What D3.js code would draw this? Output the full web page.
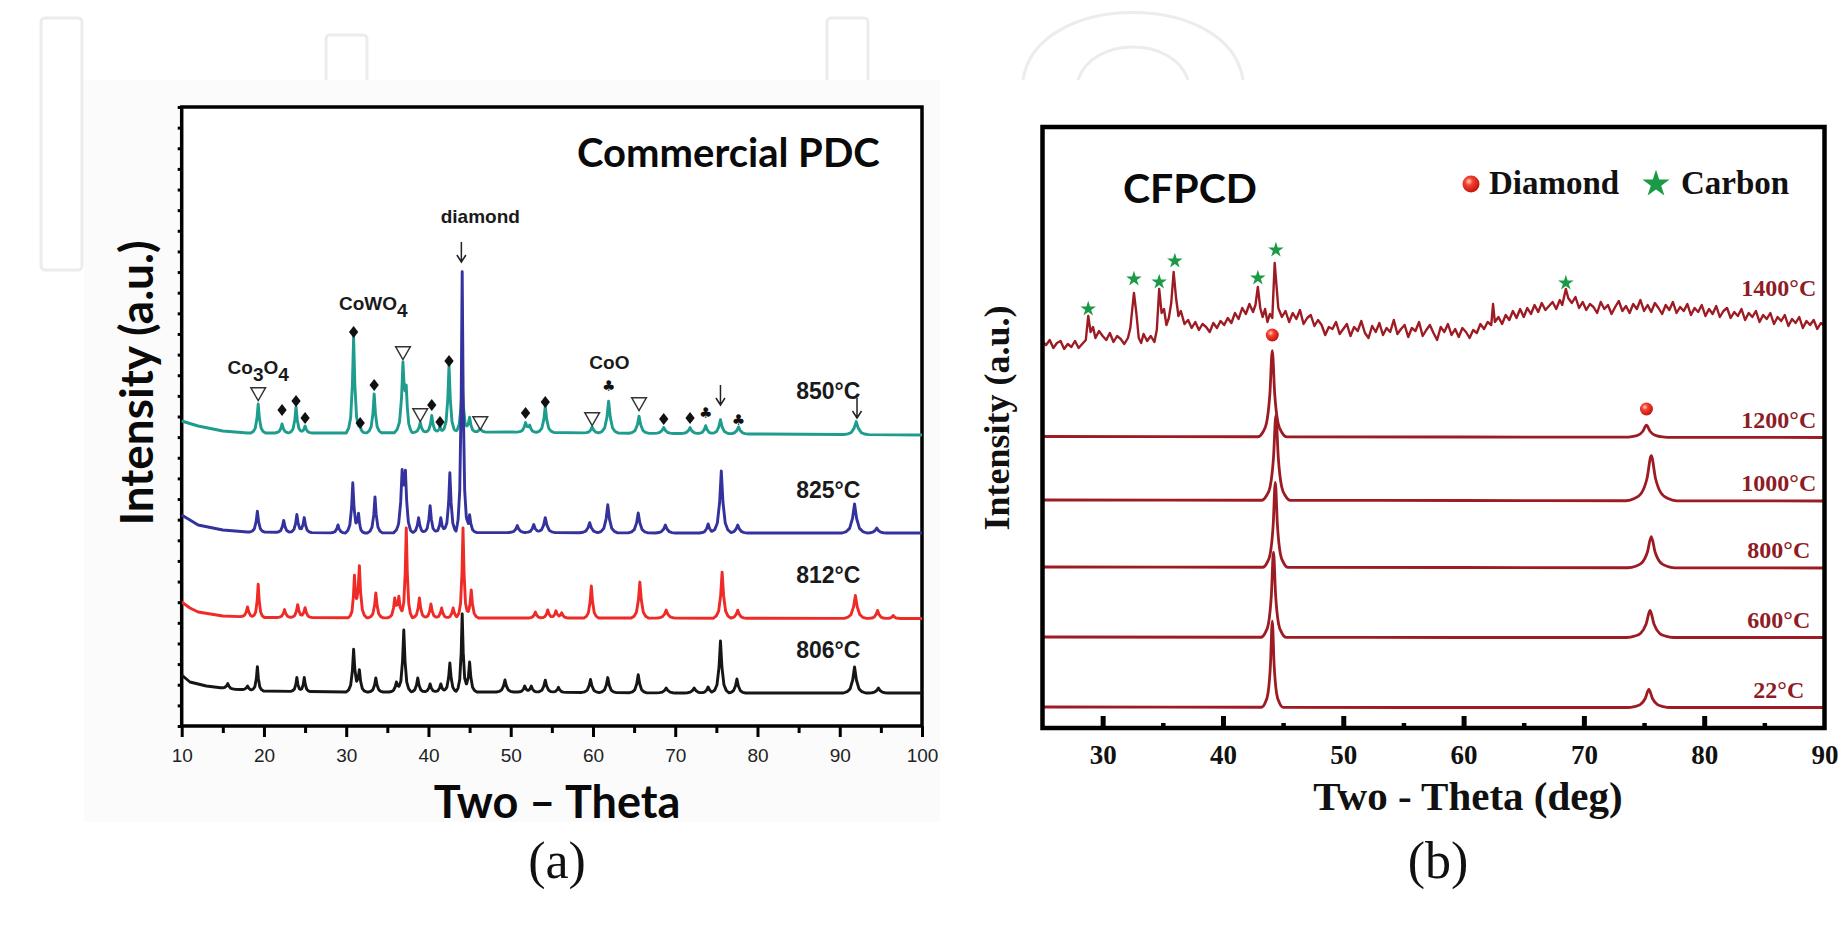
<!DOCTYPE html>
<html>
<head>
<meta charset="utf-8">
<script src="https://cdn.jsdelivr.net/npm/d3@7"></script>
<style>
    html, body { margin: 0; padding: 0; background: #fff; }
    svg { display: block; }
</style>
</head>
<body>
<svg id="chart" width="1841" height="935"></svg>
<script>
// ---------- panel (a) data: commercial PDC, counts ----------
const ticksA = [10, 20, 30, 40, 50, 60, 70, 80, 90, 100];
const minorA = [15, 25, 35, 45, 55, 65, 75, 85, 95];

// background levels [2theta, counts]
const bg806 = [[10, 510], [11, 440], [13, 400], [16, 370], [20, 350], [30, 340], [50, 340], [70, 330], [100, 330]];
const bg812 = [[10, 1240], [11, 1180], [12, 1140], [15, 1100], [20, 1085], [40, 1080], [60, 1080], [100, 1075]];
const bg850 = [[10, 3050], [12, 3000], [15, 2950], [18, 2930], [30, 2930], [50, 2940], [60, 2930], [80, 2920], [100, 2910]];
const bg825 = [[10, 2110], [11, 2060], [12, 2010], [15, 1960], [18, 1940], [30, 1930], [50, 1935], [70, 1930], [100, 1930]];

// peaks [2theta, height, fwhm]
const peaks806 = [
    [15.6, 50, 0.3], [18.0, 40, 0.3], [19.2, 240, 0.25], [24.0, 140, 0.25], [24.9, 140, 0.25],
    [30.9, 420, 0.3], [31.6, 210, 0.3], [33.6, 140, 0.3], [36.1, 100, 0.3], [37.0, 620, 0.3],
    [38.7, 140, 0.3], [40.2, 80, 0.3], [41.5, 80, 0.3], [42.6, 290, 0.3], [44.1, 780, 0.25],
    [45.0, 300, 0.3], [49.3, 120, 0.35], [51.7, 60, 0.3], [52.5, 60, 0.3], [54.2, 120, 0.35],
    [55.8, 50, 0.3], [59.7, 130, 0.35], [61.8, 150, 0.35], [65.5, 180, 0.35], [68.9, 50, 0.4],
    [72.3, 50, 0.4], [74.0, 60, 0.35], [75.5, 520, 0.35], [77.5, 140, 0.35], [91.8, 260, 0.45],
    [94.7, 50, 0.4],
];
const peaks812 = [
    [18.0, 100, 0.3], [19.3, 330, 0.25], [22.5, 80, 0.3], [24.1, 130, 0.3], [25.0, 100, 0.3],
    [31.0, 400, 0.25], [31.6, 510, 0.3], [33.6, 250, 0.3], [35.9, 180, 0.3], [36.4, 200, 0.3],
    [37.3, 900, 0.25], [38.9, 200, 0.3], [40.3, 140, 0.3], [41.6, 100, 0.3], [43.0, 100, 0.3],
    [44.2, 900, 0.25], [45.2, 280, 0.3], [53.0, 60, 0.3], [54.5, 80, 0.3], [55.5, 70, 0.3],
    [56.2, 50, 0.3], [59.8, 320, 0.3], [65.7, 360, 0.35], [68.9, 80, 0.4], [75.7, 460, 0.35],
    [77.6, 80, 0.35], [91.9, 230, 0.45], [94.6, 80, 0.35], [96.5, 30, 0.3],
];
const peaks850 = [
    [19.3, 290, 0.3], [22.2, 90, 0.3], [23.9, 260, 0.3], [25.0, 70, 0.3], [30.9, 960, 0.3],
    [31.7, 60, 0.25], [33.4, 390, 0.3], [36.9, 670, 0.35], [37.3, 350, 0.25], [39.0, 100, 0.3],
    [40.4, 170, 0.3], [41.4, 60, 0.25], [42.5, 670, 0.3], [44.1, 500, 0.3], [45.0, 150, 0.3],
    [46.3, 40, 0.3], [51.8, 90, 0.35], [52.3, 60, 0.3], [54.2, 260, 0.35], [59.9, 60, 0.35],
    [61.9, 320, 0.4], [65.6, 170, 0.4], [68.6, 60, 0.4], [71.8, 60, 0.4], [73.7, 80, 0.35],
    [75.5, 140, 0.4], [77.7, 70, 0.4], [92.0, 130, 0.5],
];
const peaks825 = [
    [19.2, 210, 0.3], [22.4, 120, 0.3], [24.0, 180, 0.3], [24.9, 150, 0.3], [29.0, 80, 0.3],
    [30.8, 500, 0.3], [31.5, 180, 0.25], [33.5, 360, 0.3], [36.8, 560, 0.35], [37.2, 520, 0.3],
    [38.8, 150, 0.3], [40.2, 270, 0.3], [41.5, 150, 0.3], [42.6, 600, 0.3], [44.1, 2610, 0.25],
    [45.0, 180, 0.3], [50.8, 70, 0.35], [52.8, 80, 0.35], [54.2, 150, 0.4], [59.6, 100, 0.4],
    [61.8, 280, 0.4], [65.5, 200, 0.4], [68.8, 80, 0.4], [74.0, 90, 0.35], [75.6, 620, 0.4],
    [77.6, 80, 0.4], [91.8, 290, 0.5], [94.5, 50, 0.4],
];

const seriesA = [
    ['806°C', bg806, peaks806],
    ['812°C', bg812, peaks812],
    ['850°C', bg850, peaks850],
    ['825°C', bg825, peaks825],
];

// phase markers [2theta, counts, kind]
const markersA = [
    [19.3, 3340, 'tri'], [22.2, 3160, 'dia'], [23.9, 3250, 'dia'], [25.0, 3080, 'dia'],
    [30.9, 3940, 'dia'], [31.7, 3030, 'dia'], [33.4, 3410, 'dia'], [36.9, 3750, 'tri'],
    [39.0, 3130, 'tri'], [40.4, 3210, 'dia'], [41.4, 3040, 'dia'], [42.5, 3650, 'dia'],
    [46.3, 3050, 'tri'], [51.8, 3130, 'dia'], [54.2, 3240, 'dia'], [59.9, 3090, 'tri'],
    [61.9, 3400, 'club'], [65.6, 3240, 'tri'], [68.6, 3070, 'dia'], [71.8, 3080, 'dia'],
    [73.7, 3130, 'club'], [75.5, 3310, 'arrow'], [77.7, 3060, 'club'], [92.1, 3180, 'arrow'],
    [44.0, 4740, 'arrow'],
];

// phase names [text, sub, text, sub, 2theta, counts]
const phaseLabels = [
    ['Co', '3', 'O', '4', 19.3, 3590],
    ['CoWO', '4', '', '', 33.3, 4230],
    ['diamond', '', '', '', 46.3, 5100],
    ['CoO', '', '', '', 62.0, 3640],
];

// ---------- panel (b) data: CFPCD ----------
const ticksB = [30, 40, 50, 60, 70, 80, 90];
const minorB = [35, 45, 55, 65, 75, 85];

const bg22 = [[25, 210], [60, 205], [90, 205]];
const bg600 = [[25, 910], [60, 905], [90, 905]];
const bg800 = [[25, 1610], [60, 1605], [90, 1600]];
const bg1000 = [[25, 2280], [60, 2275], [90, 2270]];
const bg1200 = [[25, 2915], [60, 2910], [90, 2905]];

const peaks22 = [[44.1, 860, 0.3], [75.4, 180, 0.6]];
const peaks600 = [[44.2, 850, 0.35], [75.5, 270, 0.65]];
const peaks800 = [[44.35, 850, 0.35], [75.6, 310, 0.65]];
const peaks1000 = [[44.4, 850, 0.4], [75.6, 450, 0.7]];
const peaks1200 = [[44.1, 860, 0.4], [75.2, 120, 0.6]];

const pts1400 = [
    [25.0, 3860], [25.3, 3830], [25.6, 3880], [25.9, 3800], [26.2, 3850], [26.5, 3870], [26.8, 3790],
    [27.1, 3840], [27.4, 3810], [27.7, 3870], [28.0, 3800], [28.3, 3840], [28.6, 3880], [28.8, 4120],
    [29.0, 3960], [29.2, 4010], [29.4, 3900], [29.7, 3970], [30.0, 3920], [30.3, 3880], [30.6, 3950],
    [30.9, 3860], [31.2, 3920], [31.5, 3890], [31.8, 3840], [32.1, 3900], [32.3, 4000], [32.6, 4350],
    [32.8, 4150], [33.0, 3900], [33.2, 3850], [33.4, 3940], [33.7, 3870], [34.0, 3920], [34.3, 3860],
    [34.5, 3980], [34.7, 4390], [34.9, 4150], [35.1, 4190], [35.3, 4030], [35.5, 4100], [35.7, 4250],
    [35.9, 4560], [36.1, 4300], [36.3, 4120], [36.5, 4170], [36.8, 4040], [37.1, 4080], [37.4, 4000],
    [37.7, 4060], [38.0, 3980], [38.3, 4040], [38.6, 4010], [38.9, 3960], [39.2, 4050], [39.5, 4000],
    [39.8, 4070], [40.1, 4030], [40.4, 4100], [40.7, 4050], [41.0, 4150], [41.3, 4090], [41.6, 4200],
    [41.9, 4140], [42.2, 4240], [42.5, 4160], [42.7, 4230], [42.9, 4410], [43.1, 4200], [43.3, 4110],
    [43.5, 4190], [43.7, 4060], [43.9, 4140], [44.1, 4100], [44.3, 4650], [44.6, 4200], [44.9, 4110],
    [45.2, 4170], [45.5, 4060], [45.8, 4150], [46.1, 4090], [46.4, 4180], [46.7, 4040], [47.0, 4100],
    [47.3, 4130], [47.6, 4020], [47.9, 4080], [48.2, 4030], [48.5, 3930], [48.8, 4010], [49.1, 3990],
    [49.4, 4060], [49.7, 3940], [50.0, 3990], [50.3, 4040], [50.6, 3920], [50.9, 4010], [51.2, 3970],
    [51.5, 4070], [51.8, 3950], [52.1, 3900], [52.4, 4020], [52.7, 3960], [53.0, 4050], [53.3, 3930],
    [53.6, 4000], [53.9, 3960], [54.2, 4080], [54.5, 3940], [54.8, 3990], [55.1, 4030], [55.4, 3910],
    [55.7, 4000], [56.0, 3970], [56.3, 4060], [56.6, 3920], [56.9, 3980], [57.2, 4030], [57.5, 3950],
    [57.8, 3880], [58.1, 4010], [58.4, 3960], [58.7, 4040], [59.0, 3930], [59.3, 3990], [59.6, 3910],
    [59.9, 4000], [60.2, 3960], [60.5, 3900], [60.8, 3980], [61.1, 3950], [61.4, 4040], [61.7, 3990],
    [62.0, 4060], [62.3, 4030], [62.45, 4240], [62.6, 4060], [62.9, 4110], [63.2, 4040], [63.5, 4130],
    [63.8, 4080], [64.1, 4170], [64.4, 4100], [64.7, 4190], [65.0, 4110], [65.3, 4200], [65.6, 4140],
    [65.9, 4230], [66.2, 4160], [66.5, 4250], [66.8, 4180], [67.1, 4220], [67.4, 4260], [67.7, 4190],
    [68.0, 4280], [68.2, 4230], [68.5, 4390], [68.7, 4300], [69.0, 4250], [69.3, 4310], [69.6, 4200],
    [69.9, 4260], [70.2, 4180], [70.5, 4240], [70.8, 4210], [71.1, 4150], [71.4, 4260], [71.7, 4190],
    [72.0, 4230], [72.3, 4140], [72.6, 4210], [72.9, 4270], [73.2, 4170], [73.5, 4220], [73.8, 4150],
    [74.1, 4240], [74.4, 4190], [74.7, 4280], [75.0, 4170], [75.3, 4230], [75.6, 4160], [75.9, 4250],
    [76.2, 4200], [76.5, 4140], [76.8, 4230], [77.1, 4180], [77.4, 4260], [77.7, 4150], [78.0, 4210],
    [78.3, 4170], [78.6, 4240], [78.9, 4130], [79.2, 4200], [79.5, 4160], [79.8, 4230], [80.1, 4120],
    [80.4, 4190], [80.7, 4140], [81.0, 4220], [81.3, 4110], [81.6, 4170], [81.9, 4200], [82.2, 4100],
    [82.5, 4160], [82.8, 4120], [83.1, 4190], [83.4, 4080], [83.7, 4150], [84.0, 4110], [84.3, 4170],
    [84.6, 4060], [84.9, 4130], [85.2, 4090], [85.5, 4150], [85.8, 4040], [86.1, 4110], [86.4, 4070],
    [86.7, 4130], [87.0, 4020], [87.3, 4090], [87.6, 4050], [87.9, 4110], [88.2, 4000], [88.5, 4070],
    [88.8, 4030], [89.1, 4080], [89.4, 3990], [89.7, 4050], [90.0, 4020],
];

const seriesB = [
    ['22°C', bg22, peaks22],
    ['600°C', bg600, peaks600],
    ['800°C', bg800, peaks800],
    ['1000°C', bg1000, peaks1000],
    ['1200°C', bg1200, peaks1200],
];

const carbonStars = [[28.8, 4190], [32.6, 4490], [34.7, 4460], [36.0, 4670], [42.9, 4500], [44.4, 4780], [68.5, 4450]];
const diamondDots = [[44.1, 3930], [75.2, 3190]];

// ---------- styles ----------
const colorA = { '806°C': '#161616', '812°C': '#ef2b27', '850°C': '#1e9c8d', '825°C': '#34329d' };
const traceB = '#9d1b23';
const labelB = '#8e1c25';
const sans = "'Liberation Sans', Arial, sans-serif";
const serif = "'Liberation Serif', 'Times New Roman', serif";
const calibri = "Lato, 'Open Sans', sans-serif";

// peak profile, offsets in units of fwhm
const shape = [[-3, 0], [-2, 0.05], [-1.2, 0.16], [-0.5, 0.5], [0, 1], [0.5, 0.5], [1.2, 0.16], [2, 0.05], [3, 0]];
const shapeAt = d3.scaleLinear().domain(shape.map((d) => d[0])).range(shape.map((d) => d[1])).clamp(true);

function profile(bg, peaks) {
    const base = d3.scaleLinear().domain(bg.map((d) => d[0])).range(bg.map((d) => d[1]));
    const xs = bg.map((d) => d[0]);
    peaks.forEach(([p, , w]) => shape.forEach(([o]) => xs.push(p + o * w)));
    return xs
        .sort((a, b) => a - b)
        .map((x) => [x, base(x) + d3.sum(peaks, ([p, h, w]) => h * shapeAt((x - p) / w))]);
}

const svg = d3.select('#chart');

// faint watermark of the source page
const wm = svg.append('g').attr('fill', 'none').attr('stroke', '#ececec').attr('stroke-width', 3);
wm.append('rect').attr('x', 41).attr('y', 18).attr('width', 41).attr('height', 252).attr('rx', 4);
wm.append('rect').attr('x', 326).attr('y', 35).attr('width', 41).attr('height', 60).attr('rx', 4);
wm.append('rect').attr('x', 827).attr('y', 18).attr('width', 41).attr('height', 70).attr('rx', 4);
wm.append('path').attr('d', 'M1023,80 C1036,-10 1230,-10 1243,80');
wm.append('path').attr('d', 'M1078,80 C1092,36 1174,36 1188,80');
svg.append('rect').attr('x', 84).attr('y', 80).attr('width', 856).attr('height', 742).attr('fill', '#fbfbfb');

// ---------- panel (a) ----------
const xA = d3.scaleLinear().domain([10, 100]).range([181.7, 922]);
const yA = d3.scaleLinear().domain([0, 6190]).range([726, 107]);
const gA = svg.append('g');

gA.append('rect')
    .attr('x', xA(10)).attr('y', yA(6190))
    .attr('width', xA(100) - xA(10)).attr('height', yA(0) - yA(6190))
    .attr('fill', '#fff').attr('stroke', '#000').attr('stroke-width', 3.5);

const lineA = d3.line().x((d) => xA(d[0])).y((d) => yA(d[1]));

gA.selectAll('.traceA')
    .data(seriesA)
    .enter()
    .append('path')
    .attr('class', 'traceA')
    .attr('fill', 'none')
    .attr('stroke', (d) => colorA[d[0]])
    .attr('stroke-width', 2.9)
    .attr('stroke-linejoin', 'round')
    .attr('d', (d) => lineA(profile(d[1], d[2])));

const axA = gA.append('g').attr('transform', `translate(0,${yA(0)})`)
    .call(d3.axisBottom(xA).tickValues(ticksA).tickSize(11).tickPadding(12).tickFormat(d3.format('d')));
axA.select('.domain').remove();
axA.selectAll('line').attr('stroke-width', 3);
axA.selectAll('text').attr('font-family', sans).attr('font-size', 19).attr('fill', '#222');

const axAm = gA.append('g').attr('transform', `translate(0,${yA(0)})`)
    .call(d3.axisBottom(xA).tickValues(minorA).tickSize(7).tickFormat(''));
axAm.select('.domain').remove();
axAm.selectAll('line').attr('stroke-width', 3);

const ayA = gA.append('g').attr('transform', `translate(${xA(10)},0)`)
    .call(d3.axisLeft(yA).tickValues(d3.range(0, 6191, 6190 / 30)).tickSize(4).tickFormat(''));
ayA.select('.domain').remove();
ayA.selectAll('line').attr('stroke-width', 3);

// markers
const mk = gA.append('g');
markersA.forEach(([t, v, kind]) => {
    const x = xA(t);
    const y = yA(v);
    if (kind === 'dia') {
        mk.append('path')
            .attr('d', d3.symbol(d3.symbolSquare, 60)())
            .attr('transform', `translate(${x},${y}) scale(0.85,1.1) rotate(45)`)
            .attr('fill', '#111');
    } else if (kind === 'tri') {
        mk.append('path')
            .attr('d', d3.symbol(d3.symbolTriangle, 95)())
            .attr('transform', `translate(${x},${y}) rotate(180)`)
            .attr('fill', '#fff').attr('stroke', '#333').attr('stroke-width', 1.4);
    } else if (kind === 'club') {
        mk.append('text')
            .attr('x', x).attr('y', y)
            .attr('text-anchor', 'middle').attr('dominant-baseline', 'central')
            .attr('font-family', "'DejaVu Sans', sans-serif").attr('font-size', 15).attr('fill', '#111')
            .text('♣');
    } else {
        mk.append('path')
            .attr('d', `M${x},${y - 10}L${x},${y + 10}M${x - 4.5},${y + 3}L${x},${y + 10}L${x + 4.5},${y + 3}`)
            .attr('fill', 'none').attr('stroke', '#222').attr('stroke-width', 1.5);
    }
});

phaseLabels.forEach(([a, s1, b, s2, t, v]) => {
    const tx = gA.append('text')
        .attr('x', xA(t)).attr('y', yA(v))
        .attr('text-anchor', 'middle').attr('dominant-baseline', 'central')
        .attr('font-family', sans).attr('font-weight', 'bold').attr('font-size', 19).attr('fill', '#1a1a1a');
    tx.append('tspan').text(a);
    if (s1) tx.append('tspan').attr('dy', 7).text(s1);
    if (b) tx.append('tspan').attr('dy', -7).text(b);
    if (s2) tx.append('tspan').attr('dy', 7).text(s2);
});

gA.selectAll('.tempA')
    .data(seriesA)
    .enter()
    .append('text')
    .attr('class', 'tempA')
    .attr('x', xA(88.6))
    .attr('y', (d) => yA(d3.scaleLinear().domain(d[1].map((p) => p[0])).range(d[1].map((p) => p[1]))(88.6)) - 43)
    .attr('text-anchor', 'middle').attr('dominant-baseline', 'central')
    .attr('font-family', sans).attr('font-weight', 'bold').attr('font-size', 23).attr('fill', '#1a1a1a')
    .text((d) => d[0]);

gA.append('text')
    .attr('x', 577).attr('y', 167)
    .attr('font-family', calibri).attr('font-weight', 'bold').attr('font-size', 40).attr('fill', '#0a0a0a')
    .text('Commercial PDC');

gA.append('text')
    .attr('transform', 'translate(135,383) rotate(-90)')
    .attr('text-anchor', 'middle').attr('dominant-baseline', 'central')
    .attr('font-family', calibri).attr('font-weight', 'bold').attr('font-size', 46).attr('fill', '#0a0a0a')
    .text('Intensity (a.u.)');

gA.append('text')
    .attr('x', 557).attr('y', 818)
    .attr('text-anchor', 'middle')
    .attr('font-family', calibri).attr('font-weight', 'bold').attr('font-size', 45).attr('fill', '#0a0a0a')
    .text('Two – Theta');

svg.append('text')
    .attr('x', 557).attr('y', 878)
    .attr('text-anchor', 'middle')
    .attr('font-family', serif).attr('font-size', 52).attr('fill', '#111')
    .text('(a)');

// ---------- panel (b) ----------
const xB = d3.scaleLinear().domain([25, 90]).range([1042.5, 1824.5]);
const yB = d3.scaleLinear().domain([0, 6000]).range([728, 128]);
const gB = svg.append('g');

const lineB = d3.line().x((d) => xB(d[0])).y((d) => yB(d[1])).curve(d3.curveMonotoneX);
const lineRaw = d3.line().x((d) => xB(d[0])).y((d) => yB(d[1]));

gB.selectAll('.traceB')
    .data(seriesB)
    .enter()
    .append('path')
    .attr('class', 'traceB')
    .attr('fill', 'none')
    .attr('stroke', traceB)
    .attr('stroke-width', 2.8)
    .attr('d', (d) => lineB(profile(d[1], d[2])));

gB.append('path')
    .attr('fill', 'none')
    .attr('stroke', traceB)
    .attr('stroke-width', 2.4)
    .attr('stroke-linejoin', 'round')
    .attr('d', lineRaw(pts1400));

gB.append('rect')
    .attr('x', xB(25)).attr('y', 127)
    .attr('width', xB(90) - xB(25)).attr('height', yB(0) - 127)
    .attr('fill', 'none').attr('stroke', '#000').attr('stroke-width', 4.5);

const axB = gB.append('g').attr('transform', `translate(0,${yB(0)})`)
    .call(d3.axisBottom(xB).tickValues(ticksB).tickSize(-12).tickPadding(17).tickFormat(d3.format('d')));
axB.select('.domain').remove();
axB.selectAll('line').attr('stroke-width', 5).filter((d) => d === 90).remove();
axB.selectAll('text').attr('font-family', serif).attr('font-weight', 'bold').attr('font-size', 27).attr('fill', '#111');

const axBm = gB.append('g').attr('transform', `translate(0,${yB(0)})`)
    .call(d3.axisBottom(xB).tickValues(minorB).tickSize(-5).tickFormat(''));
axBm.select('.domain').remove();
axBm.selectAll('line').attr('stroke-width', 4.5);

const defs = svg.append('defs');
const grad = defs.append('radialGradient').attr('id', 'ball').attr('cx', '38%').attr('cy', '35%').attr('r', '65%');
grad.append('stop').attr('offset', '0%').attr('stop-color', '#ffd0c8');
grad.append('stop').attr('offset', '35%').attr('stop-color', '#f5412f');
grad.append('stop').attr('offset', '100%').attr('stop-color', '#c4140e');

gB.selectAll('.ball')
    .data(diamondDots)
    .enter()
    .append('circle')
    .attr('class', 'ball')
    .attr('cx', (d) => xB(d[0])).attr('cy', (d) => yB(d[1]))
    .attr('r', 6.5).attr('fill', 'url(#ball)');

gB.selectAll('.star')
    .data(carbonStars)
    .enter()
    .append('path')
    .attr('class', 'star')
    .attr('d', d3.symbol(d3.symbolStar, 75)())
    .attr('transform', (d) => `translate(${xB(d[0])},${yB(d[1])})`)
    .attr('fill', '#1b9a45');

const labelLift = { '1400°C': 34 };
const labelRows = [['1400°C', pts1400]].concat(seriesB.map((d) => [d[0], profile(d[1], d[2])]));
gB.selectAll('.tempB')
    .data(labelRows)
    .enter()
    .append('text')
    .attr('class', 'tempB')
    .attr('x', xB(86.2))
    .attr('y', (d) => {
        const level = d[0] === '1400°C' ? 4060 : d[1][d[1].length - 1][1];
        return yB(level) - (labelLift[d[0]] || 18);
    })
    .attr('text-anchor', 'middle').attr('dominant-baseline', 'central')
    .attr('font-family', serif).attr('font-weight', 'bold').attr('font-size', 24).attr('fill', labelB)
    .text((d) => d[0]);

gB.append('text')
    .attr('x', 1123).attr('y', 203)
    .attr('font-family', calibri).attr('font-weight', 'bold').attr('font-size', 41).attr('fill', '#0a0a0a')
    .text('CFPCD');

gB.append('circle').attr('cx', 1471).attr('cy', 184).attr('r', 8.5).attr('fill', 'url(#ball)');
gB.append('text')
    .attr('x', 1489).attr('y', 194)
    .attr('font-family', serif).attr('font-weight', 'bold').attr('font-size', 33).attr('fill', '#111')
    .text('Diamond');
gB.append('path')
    .attr('d', d3.symbol(d3.symbolStar, 230)())
    .attr('transform', 'translate(1656,184)')
    .attr('fill', '#1b9a45');
gB.append('text')
    .attr('x', 1681).attr('y', 194)
    .attr('font-family', serif).attr('font-weight', 'bold').attr('font-size', 33).attr('fill', '#111')
    .text('Carbon');

gB.append('text')
    .attr('transform', 'translate(997,418) rotate(-90)')
    .attr('text-anchor', 'middle').attr('dominant-baseline', 'central')
    .attr('font-family', serif).attr('font-weight', 'bold').attr('font-size', 36).attr('fill', '#111')
    .text('Intensity (a.u.)');

gB.append('text')
    .attr('x', 1468).attr('y', 810)
    .attr('text-anchor', 'middle')
    .attr('font-family', serif).attr('font-weight', 'bold').attr('font-size', 41).attr('fill', '#111')
    .text('Two - Theta (deg)');

svg.append('text')
    .attr('x', 1438).attr('y', 878)
    .attr('text-anchor', 'middle')
    .attr('font-family', serif).attr('font-size', 52).attr('fill', '#111')
    .text('(b)');
</script>
</body>
</html>
